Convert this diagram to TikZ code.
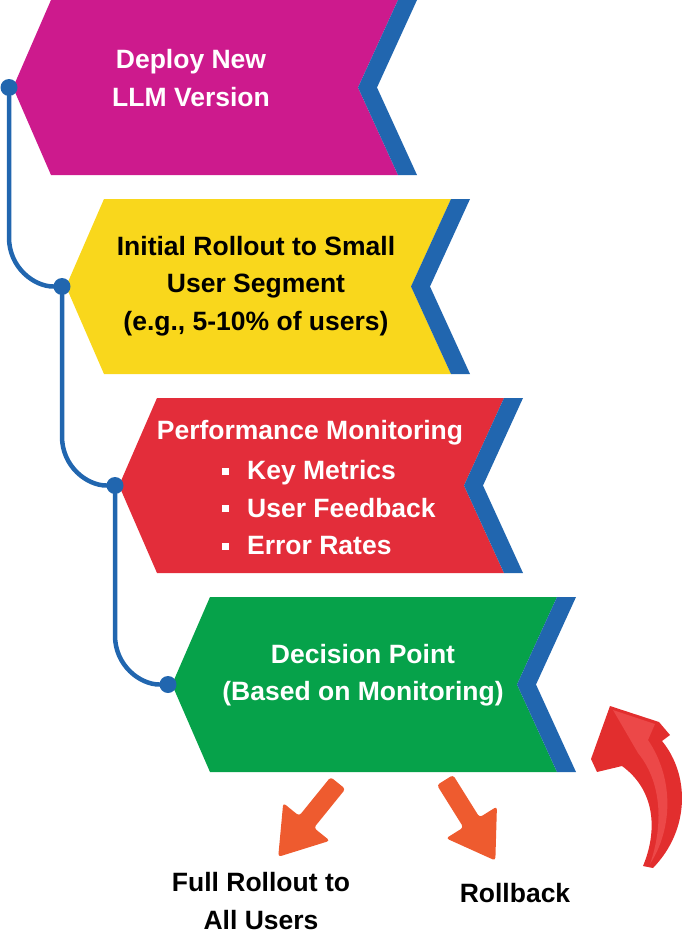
\documentclass[tikz,border=0pt]{standalone}
\usepackage{fontspec}
\setmainfont{Liberation Sans}
\usepackage{xcolor}
\usepackage{tikz}
\usetikzlibrary{arrows.meta,calc,positioning}
\definecolor{deploymagenta}{RGB}{205,26,141}
\definecolor{rolloutyellow}{RGB}{249,215,28}
\definecolor{monitorred}{RGB}{227,45,58}
\definecolor{decisiongreen}{RGB}{6,162,74}
\definecolor{edgeblue}{RGB}{33,102,175}
\definecolor{forkorange}{RGB}{238,91,47}
\definecolor{retryred}{RGB}{226,46,46}
\definecolor{retrylight}{RGB}{236,72,72}
\tikzset{
  steptext/.style={font=\fontsize{26.5}{37.5}\selectfont\bfseries,
    align=center, inner sep=0pt},
  stepdot/.style={circle, fill=edgeblue, minimum size=17pt, inner sep=0pt},
  linkline/.style={edgeblue, line width=4.5pt},
}
\newcommand{\chevronstep}[1]{%
  % Body of the step, notched on the right.
  \fill[#1] (13,87.5) -- (51,0) -- (398,0) -- (358,87.5) -- (398,175)
    -- (51,175) -- cycle;
  % Blue rim that follows the notch.
  \fill[edgeblue] (398,0) -- (417,0) -- (377,87.5) -- (417,175)
    -- (398,175) -- (358,87.5) -- cycle;
}
\newcommand{\forkarrow}{%
  \fill[forkorange, rounded corners=3pt]
    (0,-9.5) -- (50,-9.5) -- (50,-30) -- (95,0) -- (50,30) -- (50,9.5)
    -- (0,9.5) -- cycle;
}

\begin{document}
\begin{tikzpicture}[x=1pt, y=-1pt, line cap=round, line join=round]
  \useasboundingbox (0,0) rectangle (685,937);

  % The four steps, each one shifted down and to the right.
  \foreach \stepk/\stepcol in {0/deploymagenta,1/rolloutyellow,
      2/monitorred,3/decisiongreen}{%
    \begin{scope}[shift={({53*\stepk},{199*\stepk})}]
      \chevronstep{\stepcol}
    \end{scope}
  }

  \node[steptext, white] (deploy) at (191,78) {Deploy New\\LLM Version};
  \node[steptext] (rollout) at (256,286)
    {Initial Rollout to Small\\User Segment\\(e.g., 5-10\% of users)};
  \node[steptext, white] (monitor) at (310,433) {Performance Monitoring};
  \node[steptext, white, align=left, anchor=west] (metrics) at (222,508)
    {\raisebox{5pt}{\rule{7pt}{7pt}}\hspace{18pt}Key Metrics\\
     \raisebox{5pt}{\rule{7pt}{7pt}}\hspace{18pt}User Feedback\\
     \raisebox{5pt}{\rule{7pt}{7pt}}\hspace{18pt}Error Rates};
  \node[steptext, white] (decide) at (363,675)
    {Decision Point\\(Based on Monitoring)};

  % Timeline on the left edge.
  \node[stepdot] (dot1) at (9,87.5) {};
  \node[stepdot] (dot2) at (62,286.5) {};
  \node[stepdot] (dot3) at (115,485.5) {};
  \node[stepdot] (dot4) at (168,684.5) {};
  \draw[linkline] (dot1) -- ++(0,150) .. controls +(0,30) and +(-28,0) .. (dot2);
  \draw[linkline] (dot2) -- ++(0,150) .. controls +(0,30) and +(-28,0) .. (dot3);
  \draw[linkline] (dot3) -- ++(0,150) .. controls +(0,30) and +(-28,0) .. (dot4);

  % Outcomes of the decision.
  \begin{scope}[shift={(338,783)}, rotate=-129]
    \forkarrow
  \end{scope}
  \begin{scope}[shift={(445,780)}, rotate=-58]
    \forkarrow
  \end{scope}
  \node[steptext] (fullout) at (261,901) {Full Rollout to\\All Users};
  \node[steptext] (rollback) at (515,893) {Rollback};

  % Curved arrow back up to the decision.
  \fill[retryred] (610,706) -- (659,722) -- (670,735) -- (662,741)
    .. controls (690,775) and (690,830) .. (653,868) -- (643,866)
    .. controls (658,830) and (655,790) .. (622,766) -- (597,772)
    -- (591,759) -- cycle;
  \fill[retrylight] (613,710) -- (655,724) -- (648,740)
    .. controls (675,780) and (672,830) .. (650,864)
    .. controls (662,830) and (664,785) .. (638,753) -- cycle;
\end{tikzpicture}
\end{document}
